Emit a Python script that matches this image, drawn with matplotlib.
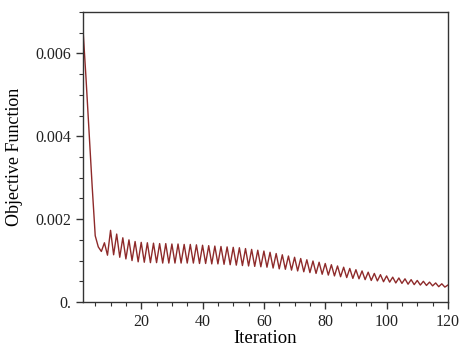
import matplotlib
matplotlib.use("Agg")
import matplotlib.pyplot as plt
from matplotlib.ticker import MultipleLocator, FixedLocator, FixedFormatter

iterations = list(range(1, 121))
objective = [
    0.00660, 0.00540, 0.00410, 0.00280, 0.00160, 0.00133, 0.00122, 0.00143, 0.00113, 0.00173,
    0.00114, 0.00164, 0.00108, 0.00155, 0.00104, 0.00150, 0.00100, 0.00146, 0.00097, 0.00144,
    0.00096, 0.00143, 0.00095, 0.00142, 0.00095, 0.00141, 0.00094, 0.00141, 0.00094, 0.00140,
    0.00094, 0.00140, 0.00094, 0.00139, 0.00094, 0.00139, 0.00094, 0.00138, 0.00093, 0.00137,
    0.00093, 0.00136, 0.00092, 0.00135, 0.00092, 0.00134, 0.00091, 0.00133, 0.00090, 0.00132,
    0.00089, 0.00131, 0.00088, 0.00129, 0.00087, 0.00127, 0.00086, 0.00125, 0.00085, 0.00123,
    0.00084, 0.00120, 0.00082, 0.00117, 0.00080, 0.00114, 0.00079, 0.00111, 0.00077, 0.00108,
    0.00075, 0.00105, 0.00073, 0.00102, 0.00071, 0.00099, 0.00069, 0.00096, 0.00067, 0.00093,
    0.00065, 0.00090, 0.00063, 0.00087, 0.00061, 0.00084, 0.00059, 0.00081, 0.00057, 0.00078,
    0.00056, 0.00075, 0.00054, 0.00072, 0.00052, 0.00069, 0.00051, 0.00066, 0.00049, 0.00063,
    0.00048, 0.00060, 0.00046, 0.00058, 0.00045, 0.00056, 0.00043, 0.00054, 0.00042, 0.00052,
    0.00041, 0.00050, 0.00040, 0.00048, 0.00039, 0.00046, 0.00037, 0.00044, 0.00036, 0.00041,
]
x_ticks = [20, 40, 60, 80, 100, 120]
y_ticks = [0.0, 0.002, 0.004, 0.006]
y_tick_labels = ["0.", "0.002", "0.004", "0.006"]

plt.rcParams['font.family'] = ['Liberation Serif', 'DejaVu Serif']

fig = plt.figure(figsize=(4.74, 3.52), dpi=100)
ax = fig.add_axes([0.175, 0.142, 0.770, 0.824])
ax.plot(iterations, objective, color='#8e2a2a', lw=1.0)

ax.set_xlim(1, 120)
ax.set_ylim(0, 0.007)
ax.xaxis.set_major_locator(FixedLocator(x_ticks))
ax.xaxis.set_minor_locator(MultipleLocator(5))
ax.yaxis.set_major_locator(FixedLocator(y_ticks))
ax.yaxis.set_major_formatter(FixedFormatter(y_tick_labels))
ax.yaxis.set_minor_locator(MultipleLocator(0.0005))

ax.tick_params(which='both', direction='out', top=False, right=False, colors='#333333',
               labelcolor='#222222', labelsize=11.5)
ax.tick_params(which='major', length=5, width=1)
ax.tick_params(which='minor', length=3, width=0.8)
for s in ax.spines.values():
    s.set_color('#333333')
    s.set_linewidth(1.0)

ax.set_xlabel('Iteration', fontsize=13.5, labelpad=0)
ax.set_ylabel('Objective Function', fontsize=13, labelpad=9)

fig.savefig('out.png', dpi=100)
